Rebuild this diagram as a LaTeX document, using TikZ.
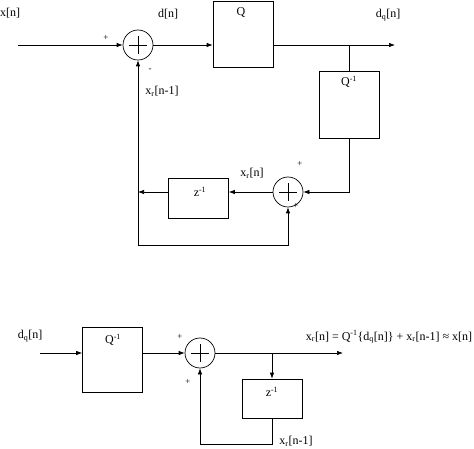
\documentclass[tikz,border=0pt]{standalone}
\usepackage{fontspec}
\setmainfont{Liberation Serif}
\usetikzlibrary{arrows.meta, positioning}
\tikzset{
  sumnode/.style={circle, draw, minimum size=30pt, inner sep=0pt},
  blockbox/.style={draw, minimum width=60pt, inner sep=0pt},
  sign/.style={font=\small, inner sep=0pt},
}
\newcommand{\xr}{x\textsubscript{r}}
\newcommand{\dq}{d\textsubscript{q}}
\newcommand{\inv}{\textsuperscript{-1}}

\begin{document}
\begin{tikzpicture}[x=1pt, y=-1pt, >={Latex[length=6pt,width=4.5pt]}, line width=0.7pt,
    font=\fontsize{12}{14}\selectfont]
            \useasboundingbox (0,0) rectangle (474,449);
            % encoder loop
            \coordinate (xin) at (18,45);
            \node[sumnode] (s1) at (138,45) {};
            \node[blockbox, minimum height=66pt] (q) at (243,34) {};
            \coordinate (dout) at (395,45);
            \coordinate (tap) at (349,45);
            \node[blockbox, minimum height=67pt] (qi) at (349,104.5) {};
            \node[sumnode] (s2) at (288,192) {};
            \node[blockbox, minimum height=40pt] (z) at (198.5,198) {};
            \coordinate (bl) at (138,245);
            \draw[->] (xin) -- (s1);
            \draw[->] (s1) -- (s1 -| q.west);
            \draw[->] (q.east |- s1) -- (dout);
            \draw (tap) -- (qi.north);
            \draw[->] (qi.south) |- (s2);
            \draw[->] (s2) -- (s2 -| z.east);
            \draw[->] (z.west |- s2) -- (s2 -| bl);
            \draw[->] (bl) -- (s1);
            \draw[->] (bl) -| (s2);
            \node (lx) at (10,13) {x[n]};
            \node (ld) at (168,14) {d[n]};
            \node (lq) at (241,13) {Q};
            \node (ldq) at (388,15) {\dq[n]};
            \node (lxr1) at (162,91) {\xr[n-1]};
            \node (lqi) at (349,82) {Q\inv};
            \node (lxr) at (252,173) {\xr[n]};
            \node (lz) at (200,192) {z\inv};
            \node[sign] (p1) at (106,38) {+};
            \node[sign] (m1) at (150,70) {-};
            \node[sign] (p2) at (300,164) {+};
            \node[sign] (p3) at (296,206) {+};
            % decoder
            \coordinate (dqin) at (40,353);
            \node[blockbox, minimum height=65pt] (qb) at (112.5,359.5) {};
            \node[sumnode] (s3) at (200,353) {};
            \coordinate (xout) at (343,353);
            \coordinate (tapb) at (272,353);
            \node[blockbox, minimum height=39pt] (zb) at (272,398.5) {};
            \coordinate (br) at (272,444);
            \draw[->] (dqin) -- (dqin -| qb.west);
            \draw[->] (qb.east |- s3) -- (s3);
            \draw[->] (s3) -- (xout);
            \draw[->] (tapb) -- (zb.north);
            \draw[->] (zb.south) -- (br) -| (s3);
            \node (ldqb) at (30,336) {\dq[n]};
            \node (lqb) at (113,340) {Q\inv};
            \node (lzb) at (272,392) {z\inv};
            \node[anchor=west, inner sep=0pt] (lxrb) at (279,441) {\xr[n-1]};
            \node (leq) at (389,337) {\xr[n] = Q\inv\{\dq[n]\} + \xr[n-1] ≈ x[n]};
            \node[sign] (p4) at (180,337) {+};
            \node[sign] (p5) at (188,382) {+};
            % crosses in the summers
            \foreach \s in {s1,s2,s3}
                \draw ([xshift=-9pt]\s.center) -- ([xshift=9pt]\s.center)
                      ([yshift=-9pt]\s.center) -- ([yshift=9pt]\s.center);
        \end{tikzpicture}
\end{document}
